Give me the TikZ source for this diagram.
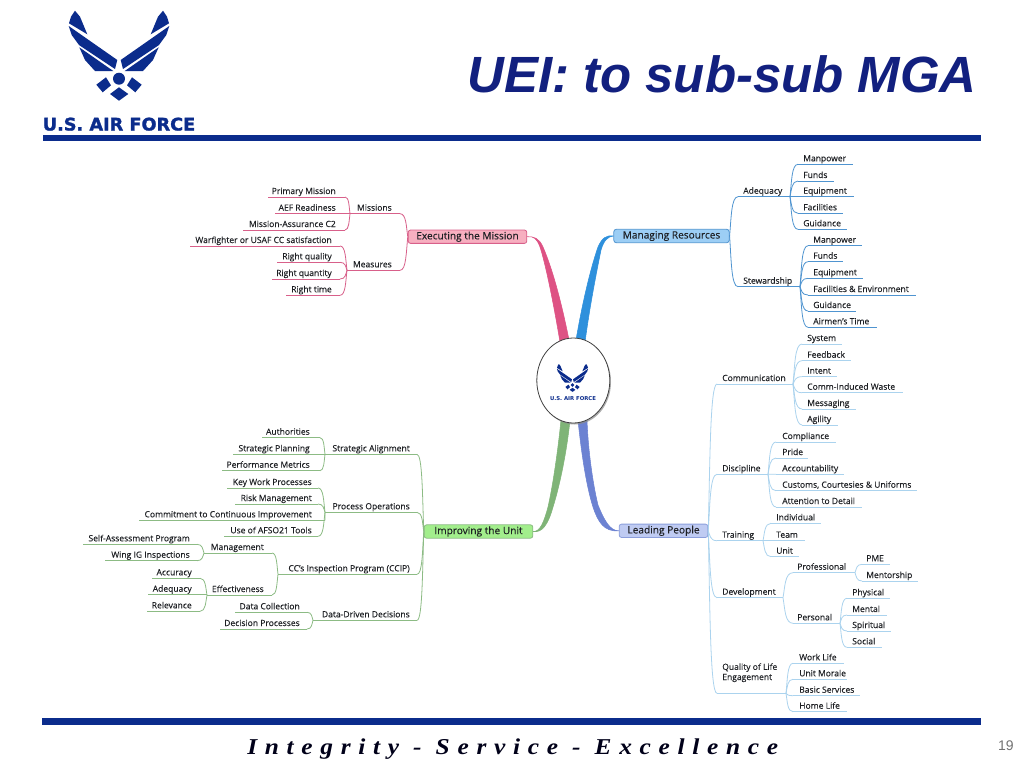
\documentclass[tikz,border=0pt]{standalone}
\usepackage{fontspec}
\setmainfont[UprightFeatures={FakeBold=0.12}]{Open Sans}
\newfontfamily\titlefont{Liberation Sans}
\newfontfamily\footfont[LetterSpace=34,FakeStretch=1.12]{Liberation Serif}
\newfontfamily\markfont[BoldFeatures={FakeBold=1.6,FakeStretch=1.02}]{DejaVu Sans}
\newfontfamily\hubfont{DejaVu Sans}
\usetikzlibrary{shapes.geometric,calc}
\definecolor{navy}{HTML}{0B2C8C}
\definecolor{titleblue}{HTML}{12207F}
\definecolor{pinkline}{HTML}{D8608A}
\definecolor{pinktrunk}{HTML}{DE5284}
\definecolor{pinkfill}{HTML}{F7AFC0}
\definecolor{blueline}{HTML}{4F94D0}
\definecolor{bluetrunk}{HTML}{2E90DC}
\definecolor{bluefill}{HTML}{9CCEF5}
\definecolor{greenline}{HTML}{8CBB84}
\definecolor{greentrunk}{HTML}{7FB477}
\definecolor{greenfill}{HTML}{A2EE8C}
\definecolor{skyline}{HTML}{ABD3EE}
\definecolor{perifill}{HTML}{BFCBF2}
\definecolor{periline}{HTML}{8C9FDC}
\definecolor{peritrunk}{HTML}{6C82D2}
\definecolor{inktext}{HTML}{1E2024}
\colorlet{branch}{pinkline}
\tikzset{
  lbl/.style={inner sep=0pt,font=\fontsize{6.4}{7.6}\selectfont,text=inktext},
  conn/.style={draw=branch,line width=0.6pt},
  mainbox/.style={rectangle,rounded corners=1.8pt,inner sep=0pt,line width=0.6pt,text=inktext,
    font=\fontsize{7.6}{9}\selectfont},
  trunk/.style={line width=0.4pt,line join=round},
}
% fan-shaped link from a parent's far end to a topic line
\newcommand\linkto[2]{%
  \coordinate (h) at ($(#1)!.2!(#2)$);
  \coordinate (m) at ($(#1)!.45!(#2)$);
  \draw[conn] (#1) .. controls (h |- m) and (h |- #2) .. (#2);
}
% right-hand topic: name, parent, near x, far x, y, text x, text
\newcommand\tR[7]{%
  \coordinate (#1-s) at (#3,#5);
  \coordinate (#1-e) at (#4,#5);
  \node[lbl,anchor=base west] (#1) at (#6,#5-3) {#7};
  \linkto{#2-e}{#1-s}
  \draw[conn] (#1-s) -- (#1-e);
}
% left-hand topic
\newcommand\tL[7]{%
  \coordinate (#1-s) at (#3,#5);
  \coordinate (#1-e) at (#4,#5);
  \node[lbl,anchor=base east] (#1) at (#6,#5-3) {#7};
  \linkto{#2-e}{#1-s}
  \draw[conn] (#1-s) -- (#1-e);
}
\newcommand\wingmark{%
  \fill (-44,0) -- (-39,6) -- (-31.7,23.6) -- (-50,12.6) -- (-48,6) -- cycle;
  \fill (-50.3,15.3) -- (-1.7,49.3) -- (-4,58.3) -- (-40,34.3) -- (-47.3,24.3) -- cycle;
  \fill (-39.7,36.6) -- (-5.7,60.3) -- (-24,60.3) -- (-34,49.3) -- cycle;
  \fill (-22.7,74) -- (-13,66.6) -- (-8,74.6) -- (-16.3,81.6) -- cycle;
}
\newcommand\airlogo{%
  \wingmark
  \begin{scope}[xscale=-1]\wingmark\end{scope}
  \fill (0,68) circle[radius=6];
  \fill (0,76.6) -- (9.3,83.3) -- (0,90) -- (-9,83.3) -- cycle;
}
\begin{document}
\begin{tikzpicture}[x=0.75pt,y=-0.75pt]
\fill[white] (0,0) rectangle (1024,768);
\useasboundingbox (0,0) rectangle (1024,768);
% header
\begin{scope}[shift={(119,10.7)},navy]\airlogo\end{scope}
\node[inner sep=0pt,anchor=base west,text=navy,font=\markfont\bfseries\fontsize{13}{13}\selectfont] (brand) at (42.5,130.5) {U.S. AIR FORCE};
\fill[navy] (42.5,135) rectangle (981,141);
\node[inner sep=0pt,anchor=base east,text=titleblue,font=\titlefont\bfseries\itshape\fontsize{38.2}{40}\selectfont] (title) at (977,92.5) {UEI: to sub-sub MGA};
% footer
\fill[navy] (42,718) rectangle (981,725);
\node[inner sep=0pt,anchor=base west,text=black!90!blue,font=\footfont\bfseries\itshape\fontsize{17}{18}\selectfont] (motto) at (247,754.3) {Integrity - Service - Excellence};
\node[inner sep=0pt,anchor=base east,text=black!55,font=\titlefont\fontsize{10.5}{12}\selectfont] (pageno) at (1014,750) {19};

% main topic boxes
\node[mainbox,draw=pinkline,fill=pinkfill,minimum width=89pt,minimum height=10pt] (exec) at (467.5,236.7) {Executing the Mission};
\node[mainbox,draw=blueline,fill=bluefill,minimum width=86.5pt,minimum height=10pt] (manage) at (671.5,236) {Managing Resources};
\node[mainbox,draw=greenline,fill=greenfill,minimum width=81.5pt,minimum height=10pt] (improve) at (478.5,531.5) {Improving the Unit};
\node[mainbox,draw=periline,fill=perifill,minimum width=66.5pt,minimum height=10pt] (lead) at (663.5,530.8) {Leading People};
\coordinate (exec-e) at (exec.west);
\coordinate (manage-e) at (manage.east);
\coordinate (improve-e) at (improve.west);
\coordinate (lead-e) at (lead.east);

% tapered trunks
\filldraw[trunk,draw=pinktrunk,fill=pinktrunk] (exec.east) .. controls (534,236) and (537,239) .. (540,247) .. controls (545,262) and (553,300) .. (560,342) -- (569,340) .. controls (562,305) and (553,270) .. (543,247) .. controls (539,238) and (534,236.5) .. (exec.east) -- cycle;
\filldraw[trunk,draw=bluetrunk,fill=bluetrunk] (manage.west) .. controls (606,235) and (602,238) .. (598,247) .. controls (590,270) and (582,305) .. (576,340) -- (585,342) .. controls (590,305) and (596,275) .. (601,250) .. controls (604,240) and (608,236.5) .. (manage.west) -- cycle;
\filldraw[trunk,draw=greentrunk,fill=greentrunk] (improve.east) .. controls (540,532) and (544,522) .. (548,507) .. controls (553,485) and (558,450) .. (561,420) -- (570,420) .. controls (567,450) and (560,485) .. (553,507) .. controls (548,525) and (542,533) .. (improve.east) -- cycle;
\filldraw[trunk,draw=peritrunk,fill=peritrunk] (lead.west) .. controls (604,532) and (598,522) .. (593,507) .. controls (586,485) and (581,450) .. (578,420) -- (587,420) .. controls (588,450) and (593,485) .. (598,505) .. controls (604,520) and (610,531) .. (lead.west) -- cycle;

% central topic
\node[ellipse,fill=black!45,opacity=.7,minimum width=54.75pt,minimum height=63.75pt,inner sep=0pt] (hubshadow) at (574.5,382) {};
\node[ellipse,draw=black!75,fill=white,line width=0.6pt,minimum width=54.75pt,minimum height=63.75pt,inner sep=0pt] (hub) at (573.3,380.5) {};
\begin{scope}[shift={(572.5,364)},scale=.31,navy]\airlogo\end{scope}
\node[inner sep=0pt,text=navy,font=\hubfont\bfseries\fontsize{4}{4}\selectfont] (hubbrand) at (573,398.5) {U.S. AIR FORCE};

% Executing the Mission
\colorlet{branch}{pinkline}
\tL{missions}{exec}{400}{350}{213.7}{392}{Missions}
\tL{primary}{missions}{345}{268}{197}{336}{Primary Mission}
\tL{aef}{missions}{350}{275}{213.7}{336}{AEF Readiness}
\tL{assurance}{missions}{345}{243}{230}{336}{Mission-Assurance C2}
\tL{measures}{exec}{400}{347}{270.3}{392}{Measures}
\tL{warfighter}{measures}{340}{190}{246}{332}{Warfighter or USAF CC satisfaction}
\tL{quality}{measures}{340}{277}{262.3}{332}{Right quality}
\tL{quantity}{measures}{340}{272}{279}{332}{Right quantity}
\tL{rtime}{measures}{340}{286}{295.3}{332}{Right time}

% Managing Resources
\colorlet{branch}{blueline}
\tR{adequacy}{manage}{738}{790}{196.7}{743}{Adequacy}
\tR{amanpower}{adequacy}{798}{853}{164.3}{803}{Manpower}
\tR{afunds}{adequacy}{798}{834}{181}{803}{Funds}
\tR{aequip}{adequacy}{790}{854}{196.7}{803}{Equipment}
\tR{afacil}{adequacy}{798}{843}{213.3}{803}{Facilities}
\tR{aguide}{adequacy}{798}{847}{229.3}{803}{Guidance}
\tR{steward}{manage}{738}{800}{286.7}{743}{Stewardship}
\tR{smanpower}{steward}{808}{862}{245.7}{813}{Manpower}
\tR{sfunds}{steward}{808}{843}{261.7}{813}{Funds}
\tR{sequip}{steward}{808}{863}{278.3}{813}{Equipment}
\tR{sfacil}{steward}{808}{916}{295}{813}{Facilities \& Environment}
\tR{sguide}{steward}{808}{856}{311}{813}{Guidance}
\tR{stime}{steward}{808}{877}{327.3}{813}{Airmen's Time}

% Improving the Unit
\colorlet{branch}{greenline}
\tL{align}{improve}{417}{325}{454.3}{410}{Strategic Alignment}
\tL{auth}{align}{320}{262}{437.7}{310}{Authorities}
\tL{planning}{align}{325}{233}{454.3}{310}{Strategic Planning}
\tL{metrics}{align}{320}{222}{470.7}{310}{Performance Metrics}
\tL{process}{improve}{417}{325}{512.3}{410}{Process Operations}
\tL{keywork}{process}{318}{227}{488}{312}{Key Work Processes}
\tL{risk}{process}{318}{235}{504}{312}{Risk Management}
\tL{commit}{process}{325}{139}{520.3}{312}{Commitment to Continuous Improvement}
\tL{afso}{process}{318}{224}{536.3}{312}{Use of AFSO21 Tools}
\tL{ccip}{improve}{417}{278}{574.3}{410}{CC's Inspection Program (CCIP)}
\tL{mgmt}{ccip}{272}{204}{553}{264}{Management}
\tL{selfas}{mgmt}{197}{83}{544.3}{190}{Self-Assessment Program}
\tL{wingig}{mgmt}{197}{105}{560.7}{190}{Wing IG Inspections}
\tL{effect}{ccip}{272}{207}{595}{264}{Effectiveness}
\tL{accur}{effect}{200}{152}{578.3}{192}{Accuracy}
\tL{adeq}{effect}{207}{148}{594.7}{192}{Adequacy}
\tL{relev}{effect}{200}{147}{611.3}{192}{Relevance}
\tL{datadr}{improve}{417}{313}{620.3}{410}{Data-Driven Decisions}
\tL{collect}{datadr}{307}{235}{612.3}{300}{Data Collection}
\tL{decproc}{datadr}{307}{220}{629}{300}{Decision Processes}

% Leading People
\colorlet{branch}{skyline}
\tR{comm}{lead}{717}{793}{384}{722}{Communication}
\tR{system}{comm}{802}{842}{344}{807}{System}
\tR{feedback}{comm}{802}{851}{360.7}{807}{Feedback}
\tR{intent}{comm}{802}{837}{376.7}{807}{Intent}
\tR{waste}{comm}{802}{903}{392.7}{807}{Comm-Induced Waste}
\tR{messaging}{comm}{802}{856}{409}{807}{Messaging}
\tR{agility}{comm}{802}{838}{425}{807}{Agility}
\tR{discipline}{lead}{717}{768}{474.3}{722}{Discipline}
\tR{compliance}{discipline}{776}{836}{442}{782}{Compliance}
\tR{pride}{discipline}{776}{808}{458}{782}{Pride}
\tR{account}{discipline}{776}{844}{474.3}{782}{Accountability}
\tR{customs}{discipline}{776}{917}{490.7}{782}{Customs, Courtesies \& Uniforms}
\tR{attention}{discipline}{776}{862}{507}{782}{Attention to Detail}
\tR{training}{lead}{717}{763}{540.7}{722}{Training}
\tR{individual}{training}{771}{821}{523.3}{776}{Individual}
\tR{team}{training}{763}{805}{540.7}{776}{Team}
\tR{unit}{training}{771}{799}{556.7}{776}{Unit}
\tR{develop}{lead}{717}{783}{597.7}{722}{Development}
\tR{profess}{develop}{793}{855}{572.7}{797}{Professional}
\tR{pme}{profess}{862}{890}{564.3}{866}{PME}
\tR{mentor}{profess}{862}{918}{581}{866}{Mentorship}
\tR{personal}{develop}{793}{840}{623.3}{797}{Personal}
\tR{physical}{personal}{847}{890}{598.3}{852}{Physical}
\tR{mental}{personal}{847}{887}{615}{852}{Mental}
\tR{spiritual}{personal}{847}{891}{631}{852}{Spiritual}
\tR{social}{personal}{847}{882}{647.3}{852}{Social}
\coordinate (qol-s) at (717,693.3);
\coordinate (qol-e) at (786,693.3);
\node[lbl,anchor=base west,align=left] (qol) at (722,680) {Quality of Life\\Engagement};
\linkto{lead-e}{qol-s}
\draw[conn] (qol-s) -- (qol-e);
\tR{worklife}{qol}{793}{844}{663.3}{799}{Work Life}
\tR{morale}{qol}{793}{847}{679.3}{799}{Unit Morale}
\tR{basic}{qol}{793}{860}{695.7}{799}{Basic Services}
\tR{homelife}{qol}{793}{847}{711.7}{799}{Home Life}
\end{tikzpicture}
\end{document}
